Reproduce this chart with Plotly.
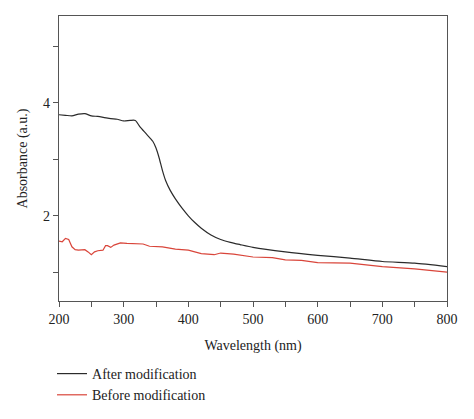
import plotly.graph_objects as go

# absorbance spectra
wl_after = [200, 210, 220, 230, 240, 250, 260, 270, 280, 290, 300, 310, 318, 325, 335, 345, 350,
            355, 360, 365, 372, 380, 390, 400, 410, 420, 435, 450, 465, 480, 500, 550, 600, 650,
            700, 750, 800]
abs_after = [3.79, 3.78, 3.77, 3.80, 3.81, 3.77, 3.76, 3.74, 3.72, 3.71, 3.68, 3.69, 3.69, 3.58,
             3.45, 3.32, 3.20, 3.02, 2.80, 2.62, 2.45, 2.30, 2.14, 2.00, 1.88, 1.78, 1.66, 1.58,
             1.53, 1.49, 1.44, 1.36, 1.30, 1.25, 1.19, 1.16, 1.10]

wl_before = [200, 205, 210, 215, 220, 225, 230, 240, 245, 250, 255, 260, 268, 272, 275, 280, 285,
             295, 305, 320, 330, 340, 360, 380, 400, 420, 440, 450, 470, 500, 530, 550, 575, 600,
             650, 700, 750, 800]
abs_before = [1.55, 1.54, 1.60, 1.58, 1.45, 1.40, 1.39, 1.40, 1.36, 1.31, 1.36, 1.38, 1.39, 1.47,
              1.47, 1.44, 1.48, 1.52, 1.51, 1.50, 1.50, 1.46, 1.45, 1.41, 1.39, 1.33, 1.31, 1.34,
              1.32, 1.27, 1.26, 1.22, 1.21, 1.17, 1.16, 1.10, 1.06, 1.00]

fig = go.Figure()
fig.add_trace(go.Scatter(x=wl_after, y=abs_after, mode="lines", name="After modification",
                         line=dict(color="#2b2b2b", width=1.2, shape="spline", smoothing=0.6)))
fig.add_trace(go.Scatter(x=wl_before, y=abs_before, mode="lines", name="Before modification",
                         line=dict(color="#d9453a", width=1.2)))

axis_common = dict(showline=True, linecolor="#555", linewidth=1.3, mirror=True, showgrid=False,
                   zeroline=False, ticks="outside", ticklen=5, tickcolor="#555", automargin=False,
                   tickfont=dict(size=14, color="#222"))

fig.update_xaxes(range=[200, 800], dtick=100, title=dict(text="Wavelength (nm)", standoff=14,
                 font=dict(size=14, color="#222")),
                 minor=dict(dtick=50, ticks="outside", ticklen=5, tickcolor="#555"), **axis_common)
fig.update_yaxes(range=[0.49, 5.54], tickvals=[2, 4], title=dict(text="Absorbance (a.u.)", standoff=12,
                 font=dict(size=14, color="#222")),
                 minor=dict(tickvals=[1, 3, 5], ticks="outside", ticklen=5, tickcolor="#555"),
                 **axis_common)

# page body adds an 8px offset, so the figure is sized to fit inside the window
fig.update_layout(
    width=466, height=411,
    plot_bgcolor="white", paper_bgcolor="white",
    font=dict(family="Liberation Serif", size=14, color="#222"),
    margin=dict(l=51, r=27, t=8, b=116),
    legend=dict(x=-0.018, y=-0.2, xanchor="left", yanchor="top", orientation="v",
                font=dict(size=14), tracegroupgap=0, itemwidth=30),
)

fig.write_html("out.html")
